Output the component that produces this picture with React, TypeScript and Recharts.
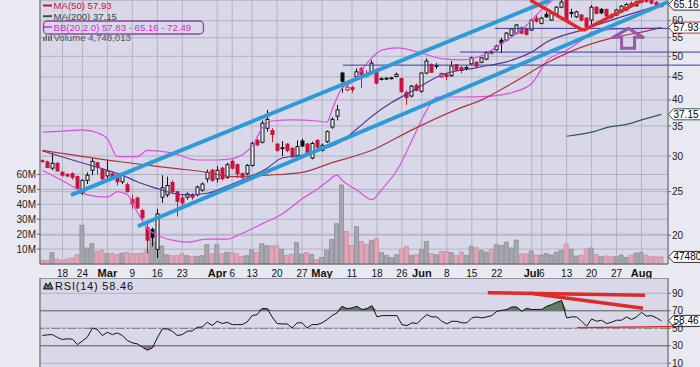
import React from 'react';
import { ComposedChart, Bar, Line, Area, XAxis, YAxis, CartesianGrid, ReferenceLine, Cell } from 'recharts';

const FONT = '"Liberation Sans", Arial, sans-serif';

// daily bars, 2020-02-11 .. 2020-08-07
const opens = [
  29.3, 29.1, 28.2, 28.9, 27.6, 27.3, 27.4, 27.0, 24.8, 26.5,
  27.9, 29.0, 28.0, 27.1, 27.4, 27.2, 26.3, 25.9, 24.0, 24.2,
  22.7, 20.8, 20.6, 18.6, 24.3, 24.6, 26.2, 25.0, 24.2, 24.3,
  24.6, 24.6, 25.2, 26.7, 27.9, 26.7, 28.2, 26.9, 29.2, 28.7,
  27.4, 27.4, 28.6, 32.5, 32.2, 34.6, 34.2, 31.9, 31.2, 31.9,
  31.2, 30.1, 32.4, 31.9, 29.7, 32.5, 30.9, 32.3, 34.8, 36.8,
  45.9, 42.1, 42.6, 45.1, 47.0, 45.2, 46.0, 46.2, 44.4, 44.5,
  44.6, 45.1, 44.6, 41.5, 40.8, 43.1, 41.8, 45.9, 47.9, 47.7,
  45.0, 45.6, 45.3, 47.9, 47.2, 47.0, 48.1, 48.5, 48.5, 49.3,
  51.2, 51.7, 54.3, 54.3, 55.7, 56.3, 57.8, 57.4, 57.2, 60.8,
  59.2, 62.0, 60.2, 62.2, 64.3, 66.9, 62.6, 61.2, 61.8, 60.8,
  60.2, 64.3, 63.6, 63.6, 61.8, 61.8, 62.8, 63.4, 65.6, 64.8,
  66.0, 67.2, 66.5, 65.9, 65.4,
];
const highs = [
  29.5, 29.3, 30.5, 29.1, 27.8, 27.5, 27.6, 27.1, 26.6, 27.6,
  29.7, 29.1, 28.2, 29.4, 27.6, 27.3, 27.4, 26.2, 24.6, 24.4,
  22.9, 21.2, 20.8, 22.9, 27.2, 27.0, 26.5, 25.1, 24.6, 24.9,
  24.8, 25.8, 26.2, 28.0, 28.1, 28.5, 28.4, 29.0, 29.5, 28.9,
  27.6, 28.8, 32.3, 32.8, 36.0, 38.0, 34.6, 32.0, 32.4, 32.0,
  31.4, 32.5, 32.8, 32.1, 32.3, 32.7, 32.0, 34.2, 36.6, 39.0,
  46.2, 43.5, 43.0, 47.0, 47.3, 46.5, 49.0, 47.0, 44.9, 44.9,
  45.0, 46.0, 44.8, 42.0, 43.2, 43.5, 46.0, 49.5, 48.2, 48.3,
  46.0, 45.9, 48.8, 48.1, 47.5, 47.8, 49.9, 48.7, 49.8, 51.3,
  51.5, 53.0, 55.0, 56.6, 57.8, 59.0, 58.3, 57.9, 60.5, 61.8,
  61.2, 62.8, 62.6, 64.6, 67.0, 68.0, 63.8, 63.2, 62.0, 61.0,
  65.0, 64.6, 64.0, 63.8, 62.3, 63.8, 65.0, 65.8, 66.2, 66.5,
  68.5, 67.6, 66.9, 66.3, 65.8,
];
const lows = [
  29.0, 28.2, 27.9, 27.7, 27.0, 26.9, 26.6, 25.3, 24.6, 26.0,
  27.2, 27.3, 26.5, 26.5, 26.8, 25.8, 26.0, 24.9, 22.9, 22.9,
  21.6, 18.2, 18.9, 17.8, 23.6, 24.3, 24.8, 22.0, 23.2, 24.0,
  24.0, 24.4, 25.0, 26.2, 26.3, 26.2, 26.5, 26.7, 28.0, 26.8,
  26.7, 27.2, 28.4, 31.5, 32.0, 34.0, 32.2, 30.7, 30.0, 30.6,
  29.7, 30.0, 31.4, 30.2, 29.5, 31.2, 30.7, 32.1, 34.5, 36.0,
  41.5, 41.8, 41.5, 44.8, 42.5, 44.8, 45.6, 43.3, 44.2, 44.3,
  44.4, 44.9, 41.5, 39.0, 40.5, 41.8, 41.5, 45.6, 45.9, 46.9,
  44.8, 44.3, 45.0, 46.4, 45.8, 46.5, 47.9, 47.3, 48.3, 49.0,
  50.5, 51.5, 50.8, 54.0, 55.3, 56.0, 56.0, 55.6, 57.0, 59.4,
  58.9, 60.9, 60.0, 62.0, 64.0, 60.0, 61.0, 60.8, 59.8, 57.8,
  57.9, 62.0, 62.0, 61.2, 60.5, 61.5, 62.5, 63.2, 64.2, 64.5,
  65.8, 65.8, 65.2, 64.6, 64.2,
];
const closes = [
  29.2, 28.3, 28.9, 27.8, 27.2, 27.1, 26.9, 25.4, 26.5, 27.2,
  29.2, 28.4, 26.7, 27.8, 27.0, 26.3, 27.2, 25.0, 23.5, 23.0,
  21.9, 19.5, 19.8, 22.3, 25.5, 25.8, 25.0, 23.8, 23.6, 24.7,
  24.3, 25.6, 26.0, 27.6, 26.5, 27.9, 26.7, 28.7, 28.2, 27.4,
  26.9, 28.6, 32.0, 31.8, 35.5, 36.2, 33.5, 30.9, 31.3, 30.9,
  29.9, 31.5, 31.6, 30.4, 32.0, 31.4, 31.7, 34.0, 36.2, 38.0,
  44.0, 42.7, 42.2, 46.2, 45.5, 45.4, 48.3, 43.6, 44.6, 44.7,
  44.8, 45.6, 41.7, 40.5, 42.9, 42.0, 45.9, 48.8, 46.1, 47.5,
  45.8, 45.1, 47.6, 46.6, 46.5, 47.2, 49.6, 47.6, 49.6, 51.0,
  50.8, 52.7, 53.5, 56.3, 57.5, 58.7, 56.3, 56.0, 60.2, 59.9,
  60.8, 61.2, 62.3, 64.3, 66.0, 60.2, 62.3, 62.8, 60.2, 58.2,
  64.3, 62.3, 62.5, 61.5, 61.0, 63.4, 64.6, 65.2, 64.6, 66.0,
  67.5, 66.3, 65.7, 65.1, 64.6,
];
const closeBefore = 29.4;

// volume in millions
const volumesM = [
  2.4, 2.4, 7.6, 3.3, 2.4, 3.3, 4.0, 6.2, 26.0, 10.7,
  13.6, 8.4, 9.1, 6.9, 7.3, 6.2, 7.3, 7.8, 6.9, 6.9,
  7.3, 9.6, 18.0, 14.7, 12.0, 6.2, 5.6, 5.6, 6.9, 5.6,
  5.1, 5.1, 5.6, 12.9, 6.9, 12.9, 6.9, 7.8, 7.8, 6.9,
  5.1, 5.6, 9.6, 7.8, 13.6, 12.2, 12.2, 12.2, 9.8, 5.8,
  6.7, 14.4, 6.7, 7.6, 6.4, 3.0, 4.4, 9.3, 16.4, 27.0,
  53.0, 21.8, 12.4, 25.0, 15.1, 13.1, 15.8, 17.1, 7.6, 5.8,
  4.2, 6.2, 9.8, 11.8, 5.8, 6.2, 9.8, 15.1, 6.9, 6.2,
  8.4, 8.4, 7.6, 5.8, 8.0, 5.8, 11.8, 10.9, 9.1, 8.0,
  9.8, 12.9, 12.4, 14.7, 10.7, 16.0, 6.7, 6.7, 8.7, 6.0,
  6.0, 7.1, 6.0, 8.0, 9.3, 13.3, 9.8, 5.3, 6.0, 10.0,
  10.7, 6.4, 4.9, 5.3, 4.9, 4.9, 6.0, 4.4, 6.0, 7.3,
  7.8, 6.0, 4.9, 4.9, 4.75,
];

const rsi14 = [
  41.7, 42.5, 42.8, 39.5, 37.1, 38.0, 37.5, 31.4, 35.5, 40.0,
  50.4, 48.5, 41.7, 45.4, 42.8, 44.7, 41.7, 36.0, 33.3, 32.2,
  28.5, 24.9, 27.6, 39.0, 49.3, 49.3, 46.6, 41.7, 42.8, 46.6,
  47.0, 51.1, 51.5, 56.9, 53.1, 58.0, 55.4, 56.9, 54.2, 54.2,
  54.2, 57.3, 64.5, 65.7, 72.5, 72.5, 63.0, 55.4, 55.0, 55.0,
  50.4, 56.2, 56.2, 50.4, 54.2, 54.2, 56.2, 59.9, 64.5, 67.6,
  75.1, 72.5, 73.3, 75.1, 71.4, 72.5, 75.9, 63.0, 64.5, 64.5,
  64.5, 64.5, 54.2, 53.1, 56.2, 55.4, 60.7, 65.7, 63.0, 63.0,
  58.0, 55.0, 58.0, 58.0, 56.2, 56.2, 61.9, 63.0, 61.9, 63.0,
  64.5, 69.4, 70.5, 71.4, 74.4, 74.4, 69.4, 72.9, 71.4, 71.6,
  71.6, 75.1, 77.1, 79.7, 81.7, 61.9, 63.0, 63.0, 58.0, 52.3,
  60.7, 58.0, 59.2, 55.4, 56.9, 59.2, 59.2, 63.0, 60.0, 63.0,
  68.3, 63.8, 64.5, 61.9, 58.46,
];

// overlays read at [day index, price]
const bbUpperPts = [
  [0, 33.9], [4, 34.1], [8, 34.3], [11, 33.8], [13, 32.8], [15, 29.9], [19, 29.9], [21, 30.9],
  [26, 30.5], [31, 29.4], [35, 29.4], [38, 29.6], [42, 31.6], [44, 34.6], [46, 35.9], [50, 36.1],
  [55, 35.9], [57, 35.7], [58, 38.0], [60, 42.5], [62, 43.8], [65, 48.3], [68, 51.6], [71, 52.2],
  [76, 50.8], [80, 49.4], [84, 49.1], [89, 50.8], [92, 53.5], [94, 55.2], [97, 58.7], [100, 63.5],
  [104, 69.0], [109, 73.5], [114, 75.0], [119, 74.0], [124, 72.49],
];
const bbLowerPts = [
  [0, 27.9], [6, 25.7], [9, 24.6], [13, 24.3], [15, 25.0], [17, 24.6], [19, 22.5], [21, 20.7],
  [23, 20.0], [26, 19.5], [29, 19.3], [33, 19.6], [37, 19.6], [40, 20.2], [44, 21.2], [48, 22.3],
  [52, 24.1], [55, 25.3], [57, 26.3], [59, 27.2], [60, 26.5], [63, 25.2], [66, 24.0], [68, 25.3],
  [71, 27.9], [75, 34.3], [77, 38.0], [79, 40.6], [84, 40.6], [90, 40.8], [94, 41.5], [98, 43.5],
  [101, 48.8], [105, 51.6], [108, 54.3], [110, 56.6], [114, 57.4], [121, 57.7], [124, 57.83],
];
const ma20Pts = [
  [0, 30.8], [6, 29.4], [13, 27.9], [16, 27.2], [19, 26.3], [23, 25.4], [26, 24.8], [29, 24.6],
  [33, 24.8], [38, 26.0], [45, 28.2], [48, 29.7], [52, 30.1], [57, 31.3], [60, 32.4], [63, 34.5],
  [66, 36.8], [70, 39.5], [74, 41.8], [80, 45.5], [87, 47.2], [94, 49.0], [98, 51.1], [101, 53.8],
  [108, 57.2], [116, 61.2], [124, 65.16],
];
const ma50Pts = [
  [0, 30.9], [16, 29.1], [26, 28.2], [33, 27.6], [38, 27.0], [45, 27.2], [52, 27.6], [58, 29.0],
  [66, 30.9], [74, 34.3], [84, 38.5], [88, 40.0], [94, 43.5], [101, 48.3], [108, 52.4], [114, 54.9],
  [121, 56.9], [124, 57.93],
];
const ma200Pts = [[105, 33.2], [110, 33.9], [113, 34.7], [117, 35.3], [120, 36.1], [124, 37.15]];

const tickIdx = [4, 8, 13, 18, 23, 28, 35, 38, 42, 47, 52, 56, 62, 67, 72, 76, 81, 86, 91, 98, 100, 105, 110, 115, 120];
const tickLabels = ['18', '24', 'Mar', '9', '16', '23', 'Apr', '6', '13', '20', '27', 'May', '11', '18', '26', 'Jun', '8', '15', '22', 'Jul', '6', '13', '20', '27', 'Aug'];

const priceTicks = [20, 25, 30, 35, 40, 45, 50, 55, 60];
const volTicks = [10e6, 20e6, 30e6, 40e6, 50e6, 60e6];
const rsiTicks = [10, 30, 50, 70, 90];

// hand drawn annotations [day index, value]
const channelLines = [
  [[5.7, 24.55], [101.7, 66.72]],
  [[19.1, 20.94], [125.3, 66.04]],
];
const vLines = [
  [[97.7, 66.72], [108.3, 57.06]],
  [[108.3, 57.06], [120.3, 66.72]],
];
const levelLines = [[60.2, 47.8], [83.6, 51.1], [90.6, 57.7]];
const arrowOutline = [[117.4, 57.7], [120.3, 55.1], [118.6, 55.1], [118.6, 52.08], [116.0, 52.08], [116.0, 55.1], [114.3, 55.1], [117.4, 57.7]];
const rsiTrendLines = [
  [[89.2, 90.7], [120.7, 87.7]],
  [[97.7, 90.0], [120.3, 72.9]],
];
const rsiSupport = [[107.1, 50.7], [131.7, 52.3]];

const rows: any[] = opens.map((o, i) => ({
  i,
  o,
  h: highs[i],
  l: lows[i],
  c: closes[i],
  pc: i === 0 ? closeBefore : closes[i - 1],
  vol: volumesM[i] * 1e6,
  rsi: rsi14[i],
  bbU: null,
  bbL: null,
  ma20: null,
  ma50: null,
  ma200: null,
}));
const place = (key: string, pts: number[][]) => pts.forEach(([i, v]) => { rows[i][key] = v; });
place('bbU', bbUpperPts);
place('bbL', bbLowerPts);
place('ma20', ma20Pts);
place('ma50', ma50Pts);
place('ma200', ma200Pts);

const RED = '#c8143c';
const DARK = '#111';
const GRID = '#b2b2c4';
const PANEL = '#d8d8e8';
const AXIS = '#666';
const MAGENTA = '#e04ce0';
const PURPLE = '#5a3296';
const MA50C = '#b0343f';
const MA200C = '#2e5e3e';
const END_IDX = 131.7;

function Candle(props: any) {
  const { x, y, width, height, payload } = props;
  if (x == null || !payload) return null;
  const { o, h, l, c, pc } = payload;
  const lh = Math.log(h);
  const span = lh - Math.log(l) || 1;
  const yv = (v: number) => y + ((lh - Math.log(v)) / span) * height;
  const color = c < pc ? RED : DARK;
  const hollow = c > o;
  const cx = Math.round(x + width / 2) + 0.5;
  const top = yv(Math.max(o, c));
  const bot = yv(Math.min(o, c));
  return (
    <g>
      <line x1={cx} x2={cx} y1={y} y2={y + height} stroke={color} strokeWidth={1} />
      <rect x={cx - 1.5} y={top} width={3} height={Math.max(bot - top, 0.8)} fill={hollow ? '#f6f6fb' : color} stroke={color} strokeWidth={1} />
    </g>
  );
}

function DateTick(props: any) {
  const { x, y, payload } = props;
  const k = tickIdx.indexOf(payload.value);
  const label = tickLabels[k] ?? '';
  const bold = /^[A-Z]/.test(label);
  return (
    <text x={x} y={y + 11} textAnchor="middle" fontSize={bold ? 11 : 10} fontWeight={bold ? 'bold' : 'normal'} fontFamily={FONT} fill="#111">
      {label}
    </text>
  );
}

function Tag(props: any) {
  const { viewBox, text, color } = props;
  if (!viewBox) return null;
  const x = viewBox.x + viewBox.width;
  const y = viewBox.y;
  return (
    <g>
      <path d={`M${x + 0.5},${y} L${x + 5.5},${y - 5.5} L${x + 34},${y - 5.5} L${x + 34},${y + 5.5} L${x + 5.5},${y + 5.5} Z`} fill="#fff" stroke={color} strokeWidth={1} />
      <text x={x + 5.5} y={y + 3.5} fontSize={10} fontFamily={FONT} fill="#000">{text}</text>
    </g>
  );
}

const axisTick = { fontSize: 10, fontFamily: FONT, fill: '#222' };

function PriceChart() {
  return (
    <ComposedChart width={700} height={278} data={rows} margin={{ top: 0, right: 0, bottom: 0, left: 0 }}>
      <CartesianGrid xAxisId="c" yAxisId="p" stroke={GRID} fill={PANEL} />
      <CartesianGrid xAxisId="c" yAxisId="v" stroke={GRID} vertical={false} />
      <XAxis xAxisId="c" dataKey="i" type="category" ticks={tickIdx} interval={0} tick={<DateTick />} tickLine={false} tickSize={0} axisLine={{ stroke: AXIS }} height={14} padding={{ left: 0, right: 4 }} />
      <XAxis xAxisId="c2" dataKey="i" type="category" hide padding={{ left: 0, right: 4 }} />
      <XAxis xAxisId="n" dataKey="i" type="number" domain={[-0.5, 124.5]} hide allowDataOverflow padding={{ left: 0, right: 4 }} />
      <YAxis yAxisId="v" orientation="left" width={40} domain={[0, 177e6]} ticks={volTicks} interval={0} tickFormatter={(v: number) => `${v / 1e6}M`} tick={axisTick} tickSize={3} tickMargin={1} tickLine={{ stroke: AXIS }} axisLine={{ stroke: AXIS }} allowDataOverflow />
      <YAxis yAxisId="p" orientation="right" width={32} scale="log" domain={[17.26, 66.72]} ticks={priceTicks} interval={0} tick={axisTick} tickSize={3} tickMargin={1} tickLine={{ stroke: AXIS }} axisLine={{ stroke: AXIS }} allowDataOverflow />

      <Bar xAxisId="c2" yAxisId="v" dataKey="vol" barSize={4} isAnimationActive={false}>
        {rows.map((r) => (
          <Cell key={r.i} fill={r.c < r.pc ? '#e3a6b6' : '#a6a6ae'} stroke={r.c < r.pc ? '#c98a9c' : '#8a8a94'} strokeWidth={0.8} />
        ))}
      </Bar>

      <Line xAxisId="c" yAxisId="p" dataKey="bbU" type="monotone" stroke={MAGENTA} strokeWidth={1.2} dot={false} connectNulls isAnimationActive={false} />
      <Line xAxisId="c" yAxisId="p" dataKey="bbL" type="monotone" stroke={MAGENTA} strokeWidth={1.2} dot={false} connectNulls isAnimationActive={false} />
      <Line xAxisId="c" yAxisId="p" dataKey="ma50" type="monotone" stroke={MA50C} strokeWidth={1.2} dot={false} connectNulls isAnimationActive={false} />
      <Line xAxisId="c" yAxisId="p" dataKey="ma20" type="monotone" stroke={PURPLE} strokeWidth={1.2} dot={false} connectNulls isAnimationActive={false} />
      <Line xAxisId="c" yAxisId="p" dataKey="ma200" type="monotone" stroke={MA200C} strokeWidth={1.2} dot={false} connectNulls isAnimationActive={false} />

      <Bar xAxisId="c" yAxisId="p" dataKey={(d: any) => [d.l, d.h]} barSize={4} shape={(p: any) => <Candle {...p} />} isAnimationActive={false} />

      {levelLines.map(([i0, v], k) => (
        <ReferenceLine key={`lv${k}`} xAxisId="n" yAxisId="p" segment={[{ x: i0, y: v }, { x: END_IDX, y: v }]} stroke="#3a3aa0" strokeWidth={1} ifOverflow="visible" />
      ))}
      {channelLines.map((s, k) => (
        <ReferenceLine key={`ch${k}`} xAxisId="n" yAxisId="p" segment={[{ x: s[0][0], y: s[0][1] }, { x: s[1][0], y: s[1][1] }]} stroke="#2e9bd8" strokeWidth={4} ifOverflow="visible" />
      ))}
      {vLines.map((s, k) => (
        <ReferenceLine key={`v${k}`} xAxisId="n" yAxisId="p" segment={[{ x: s[0][0], y: s[0][1] }, { x: s[1][0], y: s[1][1] }]} stroke="#e02a2a" strokeWidth={3.5} ifOverflow="visible" />
      ))}
      {arrowOutline.slice(1).map((pt, k) => (
        <ReferenceLine key={`ar${k}`} xAxisId="n" yAxisId="p" segment={[{ x: arrowOutline[k][0], y: arrowOutline[k][1] }, { x: pt[0], y: pt[1] }]} stroke="#9a58a8" strokeWidth={3} strokeLinecap="round" ifOverflow="visible" />
      ))}

      <ReferenceLine xAxisId="c" yAxisId="p" y={65.16} stroke="none" label={<Tag text="65.16" color="#333" />} />
      <ReferenceLine xAxisId="c" yAxisId="p" y={57.93} stroke="none" label={<Tag text="57.93" color={MA50C} />} />
      <ReferenceLine xAxisId="c" yAxisId="p" y={37.15} stroke="none" label={<Tag text="37.15" color={MA200C} />} />
      <ReferenceLine xAxisId="c" yAxisId="v" y={4748013} stroke="none" label={<Tag text="47480" color="#333" />} />
    </ComposedChart>
  );
}

function RsiChart() {
  return (
    <ComposedChart width={700} height={94} data={rows} margin={{ top: 0, right: 0, bottom: 0, left: 0 }}>
      <CartesianGrid xAxisId="n" yAxisId="r" stroke={GRID} fill={PANEL} />
      <XAxis xAxisId="n" dataKey="i" type="number" domain={[-0.5, 124.5]} ticks={tickIdx} tick={false} tickLine={false} axisLine={false} height={0} allowDataOverflow padding={{ left: 0, right: 4 }} />
      <YAxis yAxisId="l" orientation="left" width={40} domain={[0, 107.5]} tick={false} tickLine={false} axisLine={{ stroke: AXIS }} />
      <YAxis yAxisId="r" orientation="right" width={32} domain={[0, 107.5]} ticks={rsiTicks} interval={0} tick={axisTick} tickSize={3} tickMargin={1} tickLine={{ stroke: AXIS }} axisLine={{ stroke: AXIS }} />

      <ReferenceLine xAxisId="n" yAxisId="r" y={107.5} stroke={AXIS} ifOverflow="visible" />
      <ReferenceLine xAxisId="n" yAxisId="r" y={70} stroke="#6a6a6a" />
      <ReferenceLine xAxisId="n" yAxisId="r" y={30} stroke="#6a6a6a" />
      <ReferenceLine xAxisId="n" yAxisId="r" y={50} stroke="#777" strokeDasharray="8 3 2 3" />

      <Area xAxisId="n" yAxisId="r" dataKey={(d: any) => Math.max(d.rsi, 70)} baseValue={70} type="linear" stroke="none" fill="#5f7d62" fillOpacity={1} isAnimationActive={false} />
      <Area xAxisId="n" yAxisId="r" dataKey={(d: any) => Math.min(d.rsi, 30)} baseValue={30} type="linear" stroke="none" fill="#9c6b8e" fillOpacity={1} isAnimationActive={false} />
      <Line xAxisId="n" yAxisId="r" dataKey="rsi" type="linear" stroke="#111" strokeWidth={1} dot={false} isAnimationActive={false} />

      {rsiTrendLines.map((s, k) => (
        <ReferenceLine key={`rt${k}`} xAxisId="n" yAxisId="r" segment={[{ x: s[0][0], y: s[0][1] }, { x: s[1][0], y: s[1][1] }]} stroke="#e02a2a" strokeWidth={3.5} ifOverflow="visible" />
      ))}
      <ReferenceLine xAxisId="n" yAxisId="r" segment={[{ x: rsiSupport[0][0], y: rsiSupport[0][1] }, { x: rsiSupport[1][0], y: rsiSupport[1][1] }]} stroke="#e02a2a" strokeWidth={1.3} ifOverflow="visible" />

      <ReferenceLine xAxisId="n" yAxisId="r" y={58.46} stroke="none" label={<Tag text="58.46" color="#333" />} />
    </ComposedChart>
  );
}

function Overlay() {
  const t = { fontSize: 9.6, fontFamily: FONT };
  return (
    <svg width={700} height={367} style={{ position: 'absolute', left: 0, top: 0, pointerEvents: 'none' }}>
      <line x1={43} x2={52} y1={5.5} y2={5.5} stroke={RED} strokeWidth={2} />
      <text x={53.5} y={9} fill={RED} {...t}>MA(50) 57.93</text>
      <line x1={43} x2={52} y1={16.2} y2={16.2} stroke={MA200C} strokeWidth={2} />
      <text x={53.5} y={19.8} fill="#2f4a34" {...t}>MA(200) 37.15</text>
      <line x1={43} x2={52} y1={27} y2={27} stroke={MAGENTA} strokeWidth={2} />
      <text x={53.5} y={30.6} fill="#d22ad2" {...t}>BB(20,2.0) 57.83 - 65.16 - 72.49</text>
      <rect x={43.5} y={21} width={160} height={13} rx={4} fill="none" stroke="#8a4a9a" strokeWidth={1.3} />
      <g fill="#666">
        <rect x={43} y={37} width={1.5} height={4} />
        <rect x={45.5} y={35} width={1.5} height={6} />
        <rect x={48} y={36} width={1.5} height={5} />
        <rect x={50.5} y={34.5} width={1.5} height={6.5} />
      </g>
      <text x={53.5} y={41} fill="#555" {...t}>Volume 4,748,013</text>

      <path d="M43.5,289 L46,283 L48,286.5 L50,282.5 L53,289 Z" fill="#5f7d62" stroke="#111" strokeWidth={1} />
      <text x={55} y={289.5} fontSize={11} letterSpacing={0.8} fontFamily={FONT} fill="#111">RSI(14) 58.46</text>
    </svg>
  );
}

export default function App() {
  return (
    <div style={{ position: 'absolute', left: 0, top: 0, width: 700, height: 367, overflow: 'hidden', background: '#e9e9f1', fontFamily: FONT }}>
      <div style={{ position: 'absolute', left: 0, top: 0 }}>
        <PriceChart />
      </div>
      <div style={{ position: 'absolute', left: 0, top: 278 }}>
        <RsiChart />
      </div>
      <Overlay />
    </div>
  );
}
